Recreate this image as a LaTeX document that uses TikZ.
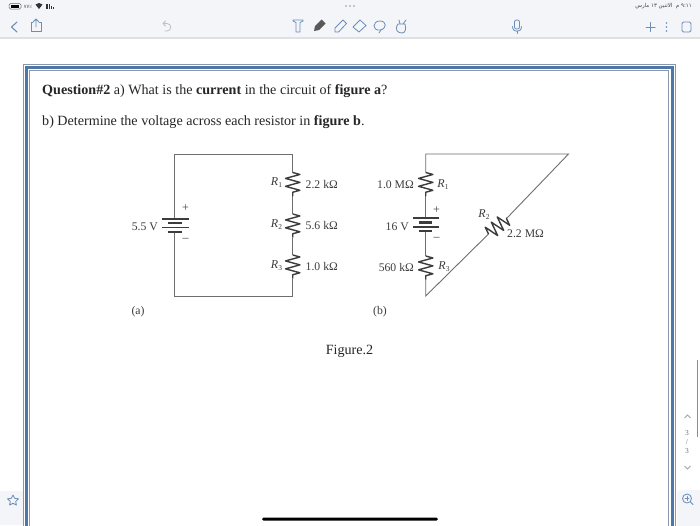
\documentclass[tikz,border=0pt]{standalone}
\usepackage{fontspec}
\usetikzlibrary{decorations.pathmorphing}
\setmainfont{Liberation Serif}
\newfontfamily\arabicfont[Script=Arabic]{DejaVu Sans}
\TeXXeTstate=1
\definecolor{wire}{HTML}{6E6E6E}
\definecolor{ink}{HTML}{3C3C3C}
\definecolor{uiblue}{HTML}{6B8DB8}
\definecolor{bandblue}{HTML}{4F76A6}
\definecolor{barbg}{HTML}{F3F5F8}
\newcommand{\rlab}[1]{\textit{R}\raisebox{-2pt}{\fontsize{7.5}{8}\selectfont #1}}
\tikzset{
  x=1pt,y=-1pt,
  wireline/.style={draw=wire,line width=0.9pt},
  resist/.style={draw=ink,line width=1.4pt,line join=round,decorate,decoration={zigzag,amplitude=7.2pt,segment length=7.9pt}},
  longplate/.style={draw=ink,line width=1.2pt},
  shortplate/.style={draw=ink,line width=2.5pt},
  ctext/.style={font=\fontsize{11.7}{13}\selectfont,text=ink,inner sep=0pt},
  rtext/.style={font=\fontsize{12}{13}\selectfont,text=ink,inner sep=0pt},
  signtext/.style={font=\fontsize{12}{13}\selectfont,text=ink,inner sep=0pt},
  qtext/.style={font=\fontsize{14.1}{16}\selectfont,text=black!85,inner sep=0pt,anchor=west},
  uiicon/.style={draw=uiblue,line width=0.8pt,line join=round,line cap=round},
}
\begin{document}
\begin{tikzpicture}
\useasboundingbox (0,0) rectangle (700,525);
\fill[white] (0,0) rectangle (700,525);
% toolbar
\fill[barbg] (0,0) rectangle (700,37);
\fill[black!12] (0,37) rectangle (700,38.5);
% page frame
\draw[bandblue!70!black!60,line width=0.7pt] (23,64) rectangle (675,540);
\draw[bandblue,line width=3pt] (26,67) rectangle (672,540);
\draw[bandblue!70!black!60,line width=0.7pt] (29.5,70) rectangle (668.5,540);
% corner panels
\fill[barbg] (0,491) rectangle (23,525);
\fill[barbg,rounded corners=4pt] (677,490) rectangle (706,530);
% question text
\node[qtext] (q1) at (42,91) {\textbf{Question\#2} a) What is the \textbf{current} in the circuit of \textbf{figure a}?};
\node[qtext] (q2) at (42,122) {b) Determine the voltage across each resistor in \textbf{figure b}.};
\node[font=\fontsize{14.1}{16}\selectfont,text=black!85,inner sep=0pt] (figcap) at (349.5,351) {Figure.2};

% circuit a
\coordinate (atl) at (174.7,154);
\coordinate (atr) at (292.7,154);
\coordinate (abl) at (174.7,296);
\coordinate (abr) at (292.7,296);
\coordinate (a1t) at (292.7,172.5);
\coordinate (a1b) at (292.7,196);
\coordinate (a2t) at (292.7,214);
\coordinate (a2b) at (292.7,237.5);
\coordinate (a3t) at (292.7,255);
\coordinate (a3b) at (292.7,278.5);
\coordinate (abtop) at (174.7,219);
\coordinate (abbot) at (174.7,232);
\draw[wireline] (abtop) -- (atl) -- (atr) -- (a1t);
\draw[wireline] (a1b) -- (a2t);
\draw[wireline] (a2b) -- (a3t);
\draw[wireline] (a3b) -- (abr) -- (abl) -- (abbot);
\draw[resist] (a1t) -- (a1b);
\draw[resist] (a2t) -- (a2b);
\draw[resist] (a3t) -- (a3b);
\draw[longplate] (162,219) -- (189,219);
\draw[shortplate] (168,223) -- (182,223);
\draw[longplate] (162,227.5) -- (189,227.5);
\draw[shortplate] (168,232) -- (182,232);
\node[ctext,anchor=east] (av) at (158,226.5) {5.5 V};
\node[signtext] (ap) at (185.5,208.5) {+};
\node[signtext] (am) at (185.5,240) {–};
\node[rtext] (ar1) at (276.5,183) {\rlab{1}};
\node[rtext] (ar2) at (276.5,224.5) {\rlab{2}};
\node[rtext] (ar3) at (276.5,265.5) {\rlab{3}};
\node[ctext,anchor=west] (aR1) at (305.5,185) {2.2 kΩ};
\node[ctext,anchor=west] (aR2) at (305.5,226) {5.6 kΩ};
\node[ctext,anchor=west] (aR3) at (305.5,267) {1.0 kΩ};
\node[ctext] (alab) at (138,311.5) {(a)};

% circuit b
\coordinate (btl) at (425.7,154);
\coordinate (btr) at (568.5,154);
\coordinate (bbl) at (425.7,296);
\coordinate (b1t) at (425.7,172.5);
\coordinate (b1b) at (425.7,196);
\coordinate (bbtop) at (425.7,218);
\coordinate (bbbot) at (425.7,231);
\coordinate (b3t) at (425.7,256);
\coordinate (b3b) at (425.7,279.5);
\coordinate (b2a) at (488.5,234);
\coordinate (b2b) at (507,218);
\draw[wireline] (b1t) -- (btl) -- (btr) -- (b2b);
\draw[wireline] (b1b) -- (bbtop);
\draw[wireline] (bbbot) -- (b3t);
\draw[wireline] (b3b) -- (bbl) -- (b2a);
\draw[resist] (b1t) -- (b1b);
\draw[resist] (b3t) -- (b3b);
\draw[resist] (b2a) -- (b2b);
\draw[longplate] (413,218) -- (439,218);
\draw[shortplate] (419,222.5) -- (432,222.5);
\draw[longplate] (413,227) -- (439,227);
\draw[shortplate] (419,231) -- (432,231);
\node[ctext,anchor=east] (bv) at (409,226.5) {16 V};
\node[signtext] (bp) at (436.5,210) {+};
\node[signtext] (bm) at (436.5,239) {–};
\node[ctext,anchor=east] (bR1) at (414,185) {1.0 MΩ};
\node[ctext,anchor=east] (bR3) at (414,267) {560 kΩ};
\node[rtext] (br1) at (443,184.5) {\rlab{1}};
\node[rtext] (br3) at (444,266.5) {\rlab{3}};
\node[rtext] (br2) at (484,214.5) {\rlab{2}};
\node[ctext,anchor=west] (bR2) at (507,233.5) {2.2 MΩ};
\node[ctext] (blab) at (380,311.5) {(b)};

% status bar
\draw[black!60,line width=0.5pt,rounded corners=1.5pt] (9,3.5) rectangle (21,9);
\fill[black] (10.5,4.5) rectangle (19,8);
\node[font=\fontsize{5}{6}\selectfont\arabicfont,text=black!70,inner sep=0pt] (stbat) at (28,6.5) {٪٧٧};
\fill[black!80] (39,9) -- (35.5,4.5) .. controls (37.5,2.5) and (40.5,2.5) .. (42.5,4.5) -- cycle;
\fill[black!80] (46,3.5) rectangle (47.5,9);
\fill[black!80] (48.5,3.5) rectangle (50,9);
\fill[black!80] (51,6) rectangle (52.3,9);
\fill[black!80] (53,7) rectangle (54.3,9);
\node[font=\fontsize{5.5}{6}\selectfont\arabicfont,text=black!75,anchor=east,inner sep=0pt] (sttime) at (692,6.5) {\beginR\beginL ٩:١١\endL{} م\ \ الاثنين \beginL ١٣\endL{} مارس\endR};
\foreach \cx in {346,350,354} \fill[black!40] (\cx,6) circle (0.8);

% toolbar icons
\draw[uiicon,line width=1.1pt] (17,22) -- (11.5,27) -- (17,32);
\draw[uiicon] (33,22.5) -- (31,22.5) -- (31,31.5) -- (41,31.5) -- (41,22.5) -- (39,22.5);
\draw[uiicon] (36,27) -- (36,19) (33.5,21.5) -- (36,19) -- (38.5,21.5);
\draw[uiicon,black!25] (163.5,23.5) -- (167,23.5) .. controls (172,23.5) and (172,31) .. (167,31) -- (165,31);
\draw[uiicon,black!25] (165.5,21) -- (163,23.5) -- (165.5,26);
\draw[uiicon] (293,21) -- (293,20) -- (303,20) -- (303,21) -- (300,22.5) -- (300,32) -- (296,32) -- (296,22.5) -- cycle;
\fill[black!65] (314,31) -- (315,26) -- (321.5,19.5) -- (325.5,23.5) -- (319,30) -- cycle;
\draw[uiicon] (335,32) -- (335,28) -- (343,20) -- (346.5,23.5) -- (338.5,32) -- cycle;
\draw[uiicon] (353,27) -- (360,20) -- (366,25.5) -- (359,32) -- cycle;
\draw[uiicon] (380,21) .. controls (372,21) and (372,31) .. (380,30) .. controls (387,29) and (387,21) .. (380,21);
\draw[uiicon] (381,30) -- (379,33);
\draw[uiicon] (398,24) .. controls (394,30) and (398,33) .. (402,33) .. controls (406,33) and (406,28) .. (405,24) -- cycle;
\draw[uiicon] (400,24) -- (399,20) (403,24) -- (406,20);
\draw[uiicon,rounded corners=2pt] (514.5,20) rectangle (519.5,29);
\draw[uiicon] (512.5,26.5) .. controls (512.5,33) and (521.5,33) .. (521.5,26.5);
\draw[uiicon] (517,31) -- (517,33.5);
\draw[uiicon,line width=1pt] (646,27) -- (655,27) (650.5,22.5) -- (650.5,31.5);
\fill[uiblue] (666.5,23) circle (0.9) (666.5,27) circle (0.9) (666.5,31) circle (0.9);
\draw[uiicon,rounded corners=1.5pt] (682,22) rectangle (691,32);

% right side
\fill[black!45] (697,360) rectangle (698,437);
\draw[black!35,line width=0.8pt] (684.5,418) -- (687.5,415) -- (690.5,418);
\draw[black!35,line width=0.8pt] (684.5,466) -- (687.5,469) -- (690.5,466);
\node[font=\fontsize{7.5}{8}\selectfont,text=black!55,inner sep=0pt] (pg1) at (687,433.5) {3};
\node[font=\fontsize{7.5}{8}\selectfont,text=black!55,inner sep=0pt] (pgs) at (687,442) {/};
\node[font=\fontsize{7.5}{8}\selectfont,text=black!55,inner sep=0pt] (pg2) at (687,451) {3};
\draw[uiicon] (687,498.5) circle (4.5);
\draw[uiicon] (685,498.5) -- (689,498.5) (687,496.5) -- (687,500.5);
\draw[uiicon] (690.5,502) -- (693,504.5);
% star
\draw[uiicon] (13,495) -- (14.6,498.3) -- (18.5,498.8) -- (15.7,501.4) -- (16.4,505) -- (13,503.3) -- (9.6,505) -- (10.3,501.4) -- (7.5,498.8) -- (11.4,498.3) -- cycle;
% home indicator
\fill[black,rounded corners=1.5pt] (262,517.5) rectangle (438,520.5);
\end{tikzpicture}
\end{document}
